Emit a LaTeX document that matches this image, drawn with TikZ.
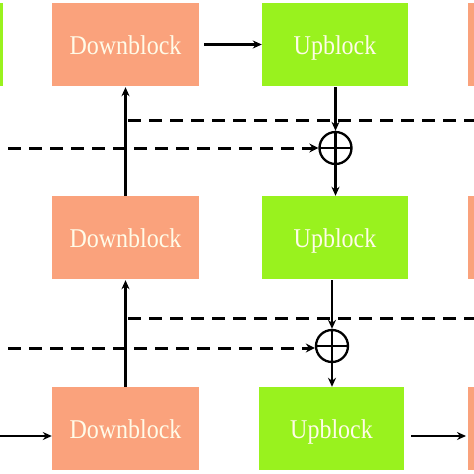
\documentclass[tikz,border=0pt]{standalone}
\usepackage{fontspec}
\setmainfont{Liberation Serif}
\usetikzlibrary{arrows.meta}
\definecolor{dorange}{RGB}{250,162,124}
\definecolor{ugreen}{RGB}{153,242,30}
\definecolor{txtcol}{RGB}{255,251,232}
\newcommand{\blktext}[1]{\scalebox{1}[1.13]{#1}}
\tikzset{
  blk/.style={minimum height=83pt, inner sep=0pt, text height=19pt, text depth=0pt,
    text=txtcol, font=\fontsize{24}{24}\selectfont},
  downblk/.style={blk, fill=dorange, minimum width=147pt},
  upblk/.style={blk, fill=ugreen, minimum width=146pt},
  plusnode/.style={circle, draw, line width=2.3pt, minimum size=32pt, inner sep=0pt,
    path picture={\draw[line width=2.3pt] (path picture bounding box.north) -- (path picture bounding box.south)
      (path picture bounding box.west) -- (path picture bounding box.east);}},
  arr/.style={line width=2.3pt, -{Stealth[length=9pt,width=8pt]}},
  dline/.style={line width=3pt, dash pattern=on 13pt off 8pt},
  darr/.style={dline, -{Stealth[length=9pt,width=9pt]}}
}
\begin{document}
\begin{tikzpicture}[x=1pt,y=-1pt]
\useasboundingbox (0,0) rectangle (474,474);
\fill[white] (0,0) rectangle (474,474);
% partial blocks at the edges
\fill[ugreen] (0,3) rectangle (3,86);
\fill[dorange] (468,3) rectangle (474,86);
\fill[dorange] (468,196) rectangle (474,279);
\fill[dorange] (468,387) rectangle (474,470);
% blocks
\node[downblk] (d1) at (125.5,44.5) {\blktext{Downblock}};
\node[upblk]   (u1) at (335,44.5) {\blktext{Upblock}};
\node[downblk] (d2) at (125.5,237.5) {\blktext{Downblock}};
\node[upblk]   (u2) at (335,237.5) {\blktext{Upblock}};
\node[downblk] (d3) at (125.5,428.5) {\blktext{Downblock}};
\node[upblk, minimum width=145pt] (u3) at (331.5,428.5) {\blktext{Upblock}};
% adders
\node[plusnode] (c1) at (335.5,148) {};
\node[plusnode] (c2) at (332,346) {};
% free ends
\coordinate (l1) at (8,148);
\coordinate (l2) at (8,348);
\coordinate (s1) at (128,120);
\coordinate (e1) at (474,120);
\coordinate (s2) at (128,318);
\coordinate (e2) at (474,318);
\coordinate (in3) at (0,436);
\coordinate (out3) at (466,436);
% connectors
\draw[arr, shorten <=5pt] (d1.east) -- (u1.west);
\draw[arr, shorten >=1pt] (d2.north) -- (d1.south);
\draw[arr, shorten >=1pt] (d3.north) -- (d2.south);
\draw[arr, shorten <=1pt] (u1.south -| c1.north) -- (c1.north);
\draw[arr] (c1.south) -- (c1.south |- u2.north);
\draw[arr, shorten <=1pt] (u2.south -| c2.north) -- (c2.north);
\draw[arr] (c2.south) -- (c2.south |- u3.north);
\draw[dline] (s1) -- (e1);
\draw[dline] (s2) -- (e2);
\draw[darr] (l1) -- (c1.west);
\draw[darr] (l2) -- (c2.west |- l2);
\draw[arr] (in3) -- (d3.west |- in3);
\draw[arr, shorten <=7pt] (u3.east |- in3) -- (out3);
\end{tikzpicture}
\end{document}
